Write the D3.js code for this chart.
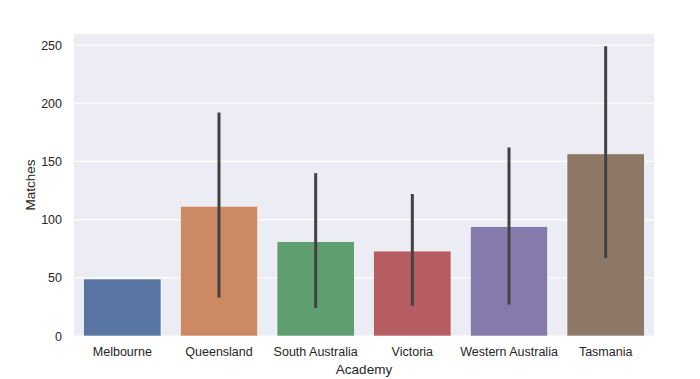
<!DOCTYPE html>
<html>
<head>
<meta charset="utf-8">
<script src="https://cdn.jsdelivr.net/npm/d3@7"></script>
<style>
  body{margin:0;background:#fff;}
  text{font-family:"Liberation Sans",Arial,sans-serif;fill:#262626;}
</style>
</head>
<body>
<script>
const academies=["Melbourne","Queensland","South Australia","Victoria","Western Australia","Tasmania"];
const matches=[49,111.5,81,73,94,156.5];
const ciLow=[null,33,24,26,27,67];
const ciHigh=[null,192,140,122,162,249];
const colors=["#5975a4","#cc8963","#5f9e6e","#b55d60","#857aab","#8d7866"];
const yTicks=[0,50,100,150,200,250];

const width=700,height=379;
const margin={left:74,right:46,top:34,bottom:43};
const innerW=width-margin.left-margin.right;
const innerH=height-margin.top-margin.bottom;

const svg=d3.select("body").append("svg")
  .attr("width",width).attr("height",height);
const g=svg.append("g").attr("transform","translate("+margin.left+","+margin.top+")");

const x=d3.scaleBand().domain(academies).range([0,innerW]).paddingInner(0.2).paddingOuter(0.1);
const y=d3.scaleLinear().domain([0,259.5]).range([innerH,0]);

g.append("rect").attr("width",innerW).attr("height",innerH).attr("fill","#ececf4");

// grid
g.selectAll(".grid").data(yTicks).enter().append("line")
  .attr("x1",0).attr("x2",innerW)
  .attr("y1",d=>y(d)).attr("y2",d=>y(d))
  .attr("stroke","#fff").attr("stroke-width",1.2);

const data=academies.map((a,i)=>({a,v:matches[i],lo:ciLow[i],hi:ciHigh[i],c:colors[i]}));

g.selectAll(".bar").data(data).enter().append("rect")
  .attr("x",d=>x(d.a)).attr("width",x.bandwidth())
  .attr("y",d=>y(d.v)).attr("height",d=>innerH-y(d.v))
  .attr("fill",d=>d.c).attr("stroke","#fff").attr("stroke-width",0.6);

g.selectAll(".err").data(data.filter(d=>d.lo!==null)).enter().append("line")
  .attr("x1",d=>x(d.a)+x.bandwidth()/2).attr("x2",d=>x(d.a)+x.bandwidth()/2)
  .attr("y1",d=>y(d.lo)).attr("y2",d=>y(d.hi))
  .attr("stroke","#424242").attr("stroke-width",3);

const yAxis=g.append("g").call(d3.axisLeft(y).tickValues(yTicks).tickSize(0).tickPadding(12));
yAxis.select(".domain").remove();
yAxis.selectAll("text").attr("font-size",12.5).attr("fill","#262626");

const xAxis=g.append("g").attr("transform","translate(0,"+innerH+")")
  .call(d3.axisBottom(x).tickSize(0).tickPadding(11));
xAxis.select(".domain").remove();
xAxis.selectAll("text").attr("font-size",12.5).attr("fill","#262626");

svg.append("text").attr("x",margin.left+innerW/2).attr("y",374)
  .attr("text-anchor","middle").attr("font-size",13.5).text("Academy");
svg.append("text").attr("transform","translate(35,"+(margin.top+innerH/2)+") rotate(-90)")
  .attr("text-anchor","middle").attr("font-size",13.5).text("Matches");
</script>
</body>
</html>
